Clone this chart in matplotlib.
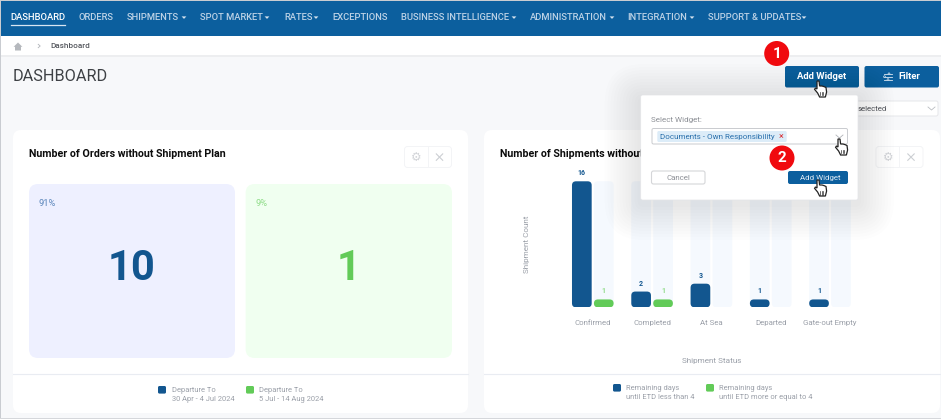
import matplotlib
matplotlib.use("Agg")
import matplotlib.pyplot as plt
from matplotlib.patches import FancyBboxPatch, Circle, Polygon, Rectangle

plt.rcParams['font.family'] = ['Roboto', 'DejaVu Sans']

NAVY = '#12568f'
GREEN = '#62cb58'
GREY = '#9a9fa8'

# chart data
statuses = ['Confirmed', 'Completed', 'At Sea', 'Departed', 'Gate-out Empty']
less_than_4 = [16, 2, 3, 1, 1]
more_or_equal_4 = [1, 1, 0, 0, 0]
track_max = 16

# tiles on the left card
tile_counts = [10, 1]
tile_percents = ['91%', '9%']

nav_labels = ['DASHBOARD', 'ORDERS', 'SHIPMENTS', 'SPOT MARKET', 'RATES', 'EXCEPTIONS',
              'BUSINESS INTELLIGENCE', 'ADMINISTRATION', 'INTEGRATION', 'SUPPORT & UPDATES']
nav_has_caret = [False, False, True, True, True, False, True, True, True, True]

W, H = 941, 419
fig = plt.figure(figsize=(W / 100, H / 100), dpi=100, facecolor='#f7f8fa')


def pixel_axes(zorder):
    a = fig.add_axes([0, 0, 1, 1], zorder=zorder)
    a.set_xlim(0, W)
    a.set_ylim(H, 0)
    a.axis('off')
    a.patch.set_alpha(0)
    return a


def rrect(a, x0, y0, x1, y1, r, fc, ec='none', lw=0.0, alpha=None, zorder=2):
    p = FancyBboxPatch((x0 + r, y0 + r), x1 - x0 - 2 * r, y1 - y0 - 2 * r,
                       boxstyle='round,pad=%f,rounding_size=%f' % (r, r),
                       fc=fc, ec=ec, lw=lw, alpha=alpha, zorder=zorder)
    a.add_patch(p)
    return p


def hand(a, x, y):
    # little pointing hand cursor, tip at x,y
    pts = [(0, 0), (2, 0), (2.6, 5), (5, 5), (7, 5.6), (9, 6.5), (9.6, 11), (8.4, 16),
           (2.6, 16), (0.6, 12), (-2.4, 8.4), (-1.6, 7), (0, 8)]
    a.add_patch(Polygon([(x + px, y + py) for px, py in pts], closed=True, fc='white',
                        ec='#222222', lw=0.9, zorder=8))
    for dx in (3.5, 5, 6.5):
        a.plot([x + dx, x + dx], [y + 11.5, y + 14.5], color='#333333', lw=0.5, zorder=9)


base = pixel_axes(0)

# page frame, nav bar, breadcrumb
base.add_patch(Rectangle((0, 0), W, H, fc='#f7f8fa', ec='none'))
base.add_patch(Rectangle((0, 0), 1.5, H, fc='#c9ccd1', ec='none', zorder=5))
base.add_patch(Rectangle((0, 0), W, 1.5, fc='#c9ccd1', ec='none', zorder=5))
base.add_patch(Rectangle((0, H - 1.5), W, 1.5, fc='#d5d7db', ec='none', zorder=5))
base.add_patch(Rectangle((1.5, 1.5), W, 35, fc='#0c5f9e', ec='none'))
base.add_patch(Rectangle((1.5, 36.5), W, 19, fc='white', ec='none'))
base.plot([1.5, W], [55.8, 55.8], color='#ececef', lw=1.2)

nav_x = [10.8, 79, 127, 200, 284, 332.5, 401, 530, 627.5, 708]
caret_x = [None, None, 184, 267, 316, None, 514, 612, 692, 804]
for i, label in enumerate(nav_labels):
    base.text(nav_x[i], 17.8, label, color='white' if i == 0 else '#bcd2e6', fontsize=6.72,
              fontweight='medium', va='center', ha='left')
    if nav_has_caret[i]:
        c = caret_x[i]
        base.add_patch(Polygon([(c - 2.4, 16.4), (c + 2.4, 16.4), (c, 18.9)], fc='#d5e3ef', ec='none'))
base.plot([11, 65.5], [24.6, 24.6], color='#d8e6f2', lw=0.9)

# breadcrumb
base.add_patch(Polygon([(13.6, 46.8), (18, 42.5), (22.4, 46.8), (21, 46.8), (21, 50.5), (15, 50.5),
                        (15, 46.8)], fc='#b5b8bd', ec='none'))
base.plot([38.2, 40.2, 38.2], [44.3, 46, 47.7], color='#b0b3b8', lw=0.6)
base.text(50, 46.2, 'Dashboard', color='#55585e', fontsize=5.9, fontweight='medium', va='center')
base.text(12.8, 76.8, 'DASHBOARD', color='#3e4145', fontsize=11.7, va='center')

# cards
rrect(base, 13, 130, 468, 413, 8, 'white', zorder=1)
rrect(base, 484, 130, 940, 413, 8, 'white', zorder=1)
base.plot([13, 468], [374, 374], color='#e9ecf2', lw=0.8, zorder=2)
base.plot([484, 940], [374, 374], color='#e9ecf2', lw=0.8, zorder=2)
base.text(29, 154, 'Number of Orders without Shipment Plan', color='#0c0c0c', fontsize=7.62,
          fontweight='bold', va='center')
base.text(500, 154, 'Number of Shipments without', color='#0c0c0c', fontsize=7.62,
          fontweight='bold', va='center')

# gear + close buttons on both cards
for x0, y0 in [(404.5, 146.5), (876, 146.5)]:
    rrect(base, x0, y0, x0 + 47, y0 + 21, 3, 'white', ec='#f3f4f6', lw=0.7)
    base.plot([x0 + 23.5, x0 + 23.5], [y0, y0 + 21], color='#f3f4f6', lw=0.7, zorder=3)
    base.text(x0 + 12, y0 + 10.6, '\u2699', color='#d2d4d8', fontsize=8.5, ha='center', va='center',
              family='DejaVu Sans', zorder=3)
    cx = x0 + 35
    cy = y0 + 10.6
    base.plot([cx - 3.2, cx + 3.2], [cy - 3.2, cy + 3.2], color='#cccfd3', lw=0.8, zorder=3)
    base.plot([cx - 3.2, cx + 3.2], [cy + 3.2, cy - 3.2], color='#cccfd3', lw=0.8, zorder=3)

# left card tiles
tile_x = [(29, 235), (245.6, 452)]
tile_bg = ['#eef0ff', '#f0fff0']
tile_fg = [NAVY, GREEN]
tile_pct_fg = ['#5b86bb', '#8fdc88']
for i in range(2):
    x0, x1 = tile_x[i]
    rrect(base, x0, 184, x1, 358, 9, tile_bg[i])
    base.text(x0 + 10, 203, tile_percents[i], color=tile_pct_fg[i], fontsize=6.7, va='center', zorder=3)
    base.text((x0 + x1) / 2 - 0.5, 268, str(tile_counts[i]), color=tile_fg[i], fontsize=30, fontweight='bold',
              ha='center', va='center', zorder=3)

# legends
legend_rows = [
    (158, 172, 386, 'Departure To', '30 Apr - 4 Jul 2024', NAVY),
    (246, 259.5, 386, 'Departure To', '5 Jul - 14 Aug 2024', GREEN),
    (613, 626, 384, 'Remaining days', 'until ETD less than 4', NAVY),
    (706, 719, 384, 'Remaining days', 'until ETD more or equal to 4', GREEN),
]
for sx, tx, sy, line1, line2, col in legend_rows:
    rrect(base, sx, sy, sx + 8, sy + 7.6, 1.5, col)
    base.text(tx, sy + 4.3, line1, color=GREY, fontsize=5.4, va='center', zorder=3)
    base.text(tx, sy + 13.5, line2, color=GREY, fontsize=5.4, va='center', zorder=3)

# bar chart, in its own axes so the bars come from the values
ax = fig.add_axes([563.15 / W, 1 - 307.3 / H, 296.5 / W, 126 / H], zorder=1)
ax.patch.set_alpha(0)
ax.set_xlim(-0.5, 4.5)
ax.set_ylim(0, track_max)
for s in ax.spines.values():
    s.set_visible(False)

positions = list(range(len(statuses)))
bar_w = 0.332
off = 0.185
x_a = [p - off for p in positions]
x_b = [p + off for p in positions]

rx = 4 / 59.3
ratio = (4 / 7.875) / rx


def round_bars(bars, color):
    for b in bars:
        if b.get_height() > 0:
            ax.add_patch(FancyBboxPatch((b.get_x(), 0), b.get_width(), b.get_height(),
                                        boxstyle='round,pad=0,rounding_size=%f' % rx,
                                        mutation_aspect=ratio, fc=color, ec='none', zorder=b.get_zorder()))
        b.set_visible(False)


round_bars(ax.bar(x_a, [track_max] * 5, bar_w, zorder=1), '#f5f9fe')
round_bars(ax.bar(x_b, [track_max] * 5, bar_w, zorder=1), '#f5f9fe')
round_bars(ax.bar(x_a, less_than_4, bar_w, zorder=2), NAVY)
round_bars(ax.bar(x_b, more_or_equal_4, bar_w, zorder=2), GREEN)

for x, v in zip(x_a, less_than_4):
    if v > 0:
        ax.annotate(str(v), (x, v), xytext=(0, 4), textcoords='offset pixels', ha='center', va='bottom',
                    color=NAVY, fontsize=5, fontweight='bold', annotation_clip=False)
for x, v in zip(x_b, more_or_equal_4):
    if v > 0:
        ax.annotate(str(v), (x, v), xytext=(0, 4), textcoords='offset pixels', ha='center', va='bottom',
                    color='#8fdc88', fontsize=5, fontweight='bold', annotation_clip=False)

ax.set_xticks(positions)
ax.set_xticklabels(statuses, fontsize=5.7, color=GREY)
ax.tick_params(axis='x', length=0, pad=9)
ax.set_yticks([])
ax.set_xlabel('Shipment Status', fontsize=5.9, color=GREY)
ax.xaxis.set_label_coords(0.5, -0.426, transform=ax.transAxes)
ax.xaxis.label.set_va('center')
ax.set_ylabel('Shipment Count', fontsize=5.9, color=GREY)
ax.yaxis.set_label_coords(-0.121, 0.5, transform=ax.transAxes)
ax.yaxis.label.set_va('center')

top = pixel_axes(2)

# header buttons
rrect(top, 785, 66, 859, 87.5, 2, '#0c5f9e', zorder=2)
top.text(822, 76.7, 'Add Widget', color='white', fontsize=6.8, fontweight='bold', ha='center', va='center')
rrect(top, 864.5, 66, 939, 87.5, 2, '#0c5f9e', zorder=2)
top.text(898, 76.7, 'Filter', color='white', fontsize=6.8, fontweight='bold', va='center')
for yy, kx in [(73.8, 889), (76.7, 884.5), (79.6, 888)]:
    top.plot([884, 892], [yy, yy], color='#dbe7f1', lw=0.6, zorder=3)
    top.add_patch(Circle((kx, yy), 0.9, fc='#0c5f9e', ec='#dbe7f1', lw=0.5, zorder=4))

# dropdown behind the popup
rrect(top, 850, 101, 938, 116, 2, 'white', ec='#e6e7ea', lw=0.7, zorder=1)
top.text(858, 108.7, 'selected', color='#55585e', fontsize=5.6, va='center', zorder=2)
top.plot([928, 931.5, 935], [107, 110, 107], color='#b9bcc1', lw=0.6, zorder=2)

# popup with soft shadow
for i in range(12):
    g = 3 * (i + 1)
    rrect(top, 640.7 - g, 100 - g, 858 + g, 204 + g, 3 + g, 'black', alpha=0.006, zorder=2)
rrect(top, 640.7, 95, 858, 200, 2, 'white', ec='#e4e5e8', lw=0.5, zorder=3)
top.text(651.5, 119.5, 'Select Widget:', color='#8d9096', fontsize=5.75, va='center', zorder=4)
rrect(top, 652, 128.5, 847.5, 144, 1.5, 'white', ec='#c9cbcf', lw=0.7, zorder=4)
rrect(top, 657.3, 131, 786.7, 142, 1.5, '#dcecf8', zorder=5)
top.text(660, 136.5, 'Documents - Own Responsibility', color='#2a70ac', fontsize=5.75, va='center', zorder=6)
top.text(781, 136.5, '\u00d7', color='#d8343a', fontsize=6.5, ha='center', va='center', zorder=6)
top.plot([836, 839.5, 843], [135, 138, 135], color='#b0b3b8', lw=0.6, zorder=6)
rrect(top, 651.5, 171, 705, 184, 2, 'white', ec='#d5d6d9', lw=0.8, zorder=4)
top.text(678.3, 177.6, 'Cancel', color='#8d9096', fontsize=5.7, ha='center', va='center', zorder=5)
rrect(top, 788, 171, 848, 184, 2, '#0c5f9e', zorder=4)
top.text(820.5, 177.6, 'Add Widget', color='#dfeaf4', fontsize=5.7, ha='center', va='center', zorder=5)

# numbered markers
for cx, cy, n in [(776.7, 53.5, '1'), (782, 158, '2')]:
    top.add_patch(Circle((cx, cy), 12.5, fc='#f00a0f', ec='none', zorder=7))
    top.text(cx, cy + 0.3, n, color='white', fontsize=11, fontweight='bold', ha='center', va='center', zorder=8)

hand(top, 817, 81)
hand(top, 838, 139)
hand(top, 817, 180)

fig.savefig('out.png', dpi=100, facecolor=fig.get_facecolor())
